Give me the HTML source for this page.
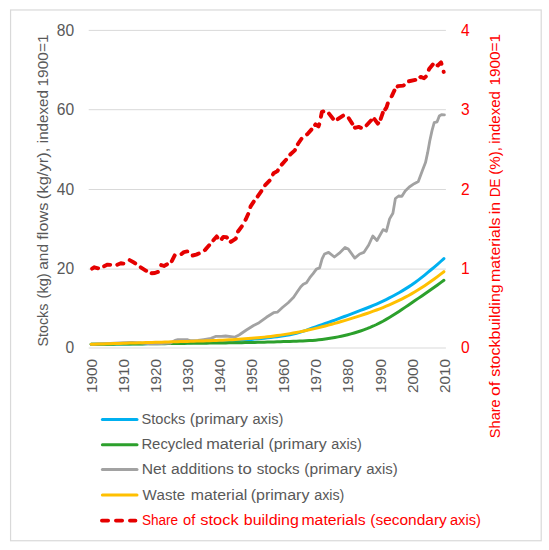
<!DOCTYPE html>
<html><head><meta charset="utf-8"><style>
html,body{margin:0;padding:0;background:#fff;}
body{width:549px;height:550px;overflow:hidden;position:relative;}
svg{position:absolute;left:0;top:0;font-family:'Liberation Sans', sans-serif;}
text{font-kerning:none;}
</style></head><body>
<svg width="549" height="550" viewBox="0 0 549 550">
<rect x="10.56" y="9.98" width="530.64" height="530.77" fill="none" stroke="#D9D9D9" stroke-width="1.2"/>
<line x1="88.7" y1="348.00" x2="445.9" y2="348.00" stroke="#D9D9D9" stroke-width="1"/>
<line x1="88.7" y1="269.10" x2="445.9" y2="269.10" stroke="#D9D9D9" stroke-width="1"/>
<line x1="88.7" y1="189.50" x2="445.9" y2="189.50" stroke="#D9D9D9" stroke-width="1"/>
<line x1="88.7" y1="109.70" x2="445.9" y2="109.70" stroke="#D9D9D9" stroke-width="1"/>
<line x1="88.7" y1="30.40" x2="445.9" y2="30.40" stroke="#D9D9D9" stroke-width="1"/>
<text x="74.2" y="353.20" text-anchor="end" font-size="15.6" fill="#595959">0</text>
<text x="74.2" y="274.30" text-anchor="end" font-size="15.6" fill="#595959">20</text>
<text x="74.2" y="194.70" text-anchor="end" font-size="15.6" fill="#595959">40</text>
<text x="74.2" y="114.90" text-anchor="end" font-size="15.6" fill="#595959">60</text>
<text x="74.2" y="35.60" text-anchor="end" font-size="15.6" fill="#595959">80</text>
<text x="461.0" y="353.20" text-anchor="start" font-size="15.6" fill="#FF0000">0</text>
<text x="461.0" y="274.30" text-anchor="start" font-size="15.6" fill="#FF0000">1</text>
<text x="461.0" y="194.70" text-anchor="start" font-size="15.6" fill="#FF0000">2</text>
<text x="461.0" y="114.90" text-anchor="start" font-size="15.6" fill="#FF0000">3</text>
<text x="461.0" y="35.60" text-anchor="start" font-size="15.6" fill="#FF0000">4</text>
<text transform="translate(97.00,359.0) rotate(-90)" text-anchor="end" font-size="15.3" fill="#595959">1900</text>
<text transform="translate(129.06,359.0) rotate(-90)" text-anchor="end" font-size="15.3" fill="#595959">1910</text>
<text transform="translate(161.12,359.0) rotate(-90)" text-anchor="end" font-size="15.3" fill="#595959">1920</text>
<text transform="translate(193.18,359.0) rotate(-90)" text-anchor="end" font-size="15.3" fill="#595959">1930</text>
<text transform="translate(225.24,359.0) rotate(-90)" text-anchor="end" font-size="15.3" fill="#595959">1940</text>
<text transform="translate(257.30,359.0) rotate(-90)" text-anchor="end" font-size="15.3" fill="#595959">1950</text>
<text transform="translate(289.36,359.0) rotate(-90)" text-anchor="end" font-size="15.3" fill="#595959">1960</text>
<text transform="translate(321.42,359.0) rotate(-90)" text-anchor="end" font-size="15.3" fill="#595959">1970</text>
<text transform="translate(353.48,359.0) rotate(-90)" text-anchor="end" font-size="15.3" fill="#595959">1980</text>
<text transform="translate(385.54,359.0) rotate(-90)" text-anchor="end" font-size="15.3" fill="#595959">1990</text>
<text transform="translate(417.60,359.0) rotate(-90)" text-anchor="end" font-size="15.3" fill="#595959">2000</text>
<text transform="translate(449.66,359.0) rotate(-90)" text-anchor="end" font-size="15.3" fill="#595959">2010</text>
<text transform="translate(48.10,346.55) rotate(-90)" font-size="15.3" fill="#595959" textLength="42.97" lengthAdjust="spacingAndGlyphs">Stocks</text>
<text transform="translate(48.10,298.40) rotate(-90)" font-size="15.3" fill="#595959" textLength="25.11" lengthAdjust="spacingAndGlyphs">(kg)</text>
<text transform="translate(48.10,269.76) rotate(-90)" font-size="15.3" fill="#595959" textLength="25.75" lengthAdjust="spacingAndGlyphs">and</text>
<text transform="translate(48.10,239.73) rotate(-90)" font-size="15.3" fill="#595959" textLength="37.12" lengthAdjust="spacingAndGlyphs">flows</text>
<text transform="translate(48.10,199.13) rotate(-90)" font-size="15.3" fill="#595959" textLength="51.51" lengthAdjust="spacingAndGlyphs">(kg/yr),</text>
<text transform="translate(48.10,143.21) rotate(-90)" font-size="15.3" fill="#595959" textLength="53.09" lengthAdjust="spacingAndGlyphs">indexed</text>
<text transform="translate(48.10,86.48) rotate(-90)" font-size="15.3" fill="#595959" textLength="52.03" lengthAdjust="spacingAndGlyphs">1900=1</text>
<text transform="translate(500.40,438.16) rotate(-90)" font-size="15.3" fill="#FF0000" textLength="38.81" lengthAdjust="spacingAndGlyphs">Share</text>
<text transform="translate(500.40,396.03) rotate(-90)" font-size="15.3" fill="#FF0000" textLength="14.50" lengthAdjust="spacingAndGlyphs">of</text>
<text transform="translate(500.40,376.85) rotate(-90)" font-size="15.3" fill="#FF0000" textLength="92.58" lengthAdjust="spacingAndGlyphs">stockbuilding</text>
<text transform="translate(500.40,281.95) rotate(-90)" font-size="15.3" fill="#FF0000" textLength="64.33" lengthAdjust="spacingAndGlyphs">materials</text>
<text transform="translate(500.40,214.16) rotate(-90)" font-size="15.3" fill="#FF0000" textLength="12.28" lengthAdjust="spacingAndGlyphs">in</text>
<text transform="translate(500.40,197.08) rotate(-90)" font-size="15.3" fill="#FF0000" textLength="18.35" lengthAdjust="spacingAndGlyphs">DE</text>
<text transform="translate(500.40,174.74) rotate(-90)" font-size="15.3" fill="#FF0000" textLength="27.80" lengthAdjust="spacingAndGlyphs">(%),</text>
<text transform="translate(500.40,143.81) rotate(-90)" font-size="15.3" fill="#FF0000" textLength="52.78" lengthAdjust="spacingAndGlyphs">indexed</text>
<text transform="translate(500.40,85.57) rotate(-90)" font-size="15.3" fill="#FF0000" textLength="51.51" lengthAdjust="spacingAndGlyphs">1900=1</text>
<polyline points="91.10,344.30 94.31,344.28 97.51,344.26 100.72,344.24 103.93,344.21 107.14,344.18 110.34,344.15 113.55,344.11 116.76,344.07 119.97,344.04 123.17,344.00 126.38,343.95 129.59,343.91 132.79,343.86 136.00,343.82 139.21,343.77 142.42,343.72 145.62,343.67 148.83,343.62 152.04,343.57 155.25,343.51 158.45,343.45 161.66,343.39 164.87,343.33 168.07,343.26 171.28,343.19 174.49,343.12 177.70,343.04 180.90,342.96 184.11,342.88 187.32,342.79 190.53,342.70 193.73,342.60 196.94,342.50 200.15,342.40 203.35,342.28 206.56,342.16 209.77,342.02 212.98,341.87 216.18,341.72 219.39,341.55 222.60,341.37 225.81,341.19 229.01,341.00 232.22,340.80 235.43,340.60 238.63,340.39 241.84,340.17 245.05,339.94 248.26,339.68 251.46,339.41 254.67,339.12 257.88,338.81 261.09,338.49 264.29,338.17 267.50,337.84 270.71,337.49 273.91,337.13 277.12,336.74 280.33,336.32 283.54,335.86 286.74,335.36 289.95,334.81 293.16,334.15 296.37,333.34 299.57,332.42 302.78,331.39 305.99,330.30 309.19,329.16 312.40,327.99 315.61,326.83 318.82,325.70 322.02,324.61 325.23,323.50 328.44,322.37 331.65,321.22 334.85,320.06 338.06,318.88 341.27,317.69 344.47,316.49 347.68,315.28 350.89,314.06 354.10,312.86 357.30,311.66 360.51,310.46 363.72,309.25 366.93,308.01 370.13,306.74 373.34,305.42 376.55,304.05 379.75,302.61 382.96,301.11 386.17,299.55 389.38,297.94 392.58,296.26 395.79,294.52 399.00,292.72 402.21,290.85 405.41,288.90 408.62,286.89 411.83,284.79 415.03,282.54 418.24,280.15 421.45,277.66 424.66,275.08 427.86,272.44 431.07,269.75 434.28,267.05 437.49,264.33 440.69,261.50 443.90,258.60" fill="none" stroke="#00B0F0" stroke-width="3.0" stroke-linejoin="round" stroke-linecap="round"/>
<polyline points="91.10,344.30 94.31,344.28 97.51,344.25 100.72,344.23 103.93,344.21 107.14,344.18 110.34,344.16 113.55,344.13 116.76,344.11 119.97,344.08 123.17,344.06 126.38,344.03 129.59,344.00 132.79,343.97 136.00,343.94 139.21,343.91 142.42,343.88 145.62,343.85 148.83,343.81 152.04,343.78 155.25,343.74 158.45,343.70 161.66,343.67 164.87,343.63 168.07,343.59 171.28,343.55 174.49,343.51 177.70,343.47 180.90,343.43 184.11,343.39 187.32,343.35 190.53,343.31 193.73,343.27 196.94,343.23 200.15,343.20 203.35,343.16 206.56,343.13 209.77,343.10 212.98,343.06 216.18,343.03 219.39,342.99 222.60,342.95 225.81,342.91 229.01,342.87 232.22,342.83 235.43,342.78 238.63,342.72 241.84,342.67 245.05,342.60 248.26,342.54 251.46,342.47 254.67,342.39 257.88,342.31 261.09,342.23 264.29,342.15 267.50,342.06 270.71,341.97 273.91,341.88 277.12,341.79 280.33,341.69 283.54,341.60 286.74,341.50 289.95,341.40 293.16,341.30 296.37,341.20 299.57,341.08 302.78,340.95 305.99,340.79 309.19,340.61 312.40,340.39 315.61,340.13 318.82,339.82 322.02,339.47 325.23,339.06 328.44,338.60 331.65,338.09 334.85,337.52 338.06,336.90 341.27,336.22 344.47,335.49 347.68,334.70 350.89,333.86 354.10,332.96 357.30,332.00 360.51,330.96 363.72,329.85 366.93,328.66 370.13,327.37 373.34,325.99 376.55,324.51 379.75,322.93 382.96,321.23 386.17,319.42 389.38,317.53 392.58,315.55 395.79,313.51 399.00,311.42 402.21,309.29 405.41,307.12 408.62,304.94 411.83,302.75 415.03,300.57 418.24,298.37 421.45,296.17 424.66,293.96 427.86,291.74 431.07,289.49 434.28,287.23 437.49,284.94 440.69,282.62 443.90,280.30" fill="none" stroke="#2CA02C" stroke-width="3.0" stroke-linejoin="round" stroke-linecap="round"/>
<polyline points="91.1,344.3 100,343.9 110,343.3 120,343.0 132,342.4 140,342.8 150,343.8 157,343.8 170,343.2 175,340.4 178,339.7 187.7,339.7 190.6,340.7 197.9,340.5 203.7,339.6 211,338.4 216.1,336.3 221.2,336.3 225.6,336.0 232.9,336.9 234.5,337.2 239.1,335.0 246.4,330 253.6,325.5 259.1,322.7 266.4,317.3 273.6,312.7 277.3,312.2 282.7,307.3 288.2,302.7 293.6,297.3 297.3,291.8 300.8,286.7 303.3,284.3 306.5,282.7 309.8,277.7 313.1,273.6 316.4,269.1 319.6,267.9 322.1,258.9 324.5,254 328.6,252.4 334.4,257 339.3,253.2 345,247.5 348.3,249.1 354.8,258.1 359.7,254 363.8,252.4 368.7,245 372.8,236 377,240.5 383.1,229.6 386.4,231.2 389.6,218.9 392.9,213.2 395.4,198.5 398.6,196 401.9,196.3 405.2,191.1 409.3,187 414.2,183.7 418.3,181.5 422.6,169.9 425.5,162.6 427.7,152.4 429.8,140.8 432,130.6 434.2,122.6 437.1,121.8 439.3,116 441.5,114.6 444.4,114.8" fill="none" stroke="#A2A2A2" stroke-width="2.8" stroke-linejoin="round" stroke-linecap="round"/>
<polyline points="91.10,344.30 94.31,344.20 97.51,344.10 100.72,343.99 103.93,343.89 107.14,343.79 110.34,343.69 113.55,343.59 116.76,343.49 119.97,343.39 123.17,343.29 126.38,343.19 129.59,343.09 132.79,342.99 136.00,342.90 139.21,342.80 142.42,342.71 145.62,342.61 148.83,342.52 152.04,342.42 155.25,342.33 158.45,342.24 161.66,342.15 164.87,342.06 168.07,341.96 171.28,341.87 174.49,341.78 177.70,341.69 180.90,341.59 184.11,341.50 187.32,341.40 190.53,341.30 193.73,341.20 196.94,341.10 200.15,341.00 203.35,340.89 206.56,340.78 209.77,340.67 212.98,340.55 216.18,340.42 219.39,340.29 222.60,340.15 225.81,340.00 229.01,339.84 232.22,339.67 235.43,339.48 238.63,339.29 241.84,339.08 245.05,338.85 248.26,338.61 251.46,338.35 254.67,338.08 257.88,337.78 261.09,337.47 264.29,337.13 267.50,336.77 270.71,336.40 273.91,335.99 277.12,335.57 280.33,335.12 283.54,334.64 286.74,334.14 289.95,333.61 293.16,333.05 296.37,332.46 299.57,331.85 302.78,331.21 305.99,330.54 309.19,329.84 312.40,329.12 315.61,328.37 318.82,327.59 322.02,326.79 325.23,325.97 328.44,325.12 331.65,324.25 334.85,323.36 338.06,322.44 341.27,321.52 344.47,320.57 347.68,319.61 350.89,318.63 354.10,317.63 357.30,316.62 360.51,315.59 363.72,314.54 366.93,313.46 370.13,312.34 373.34,311.20 376.55,310.02 379.75,308.80 382.96,307.53 386.17,306.22 389.38,304.86 392.58,303.45 395.79,301.98 399.00,300.45 402.21,298.86 405.41,297.20 408.62,295.47 411.83,293.66 415.03,291.78 418.24,289.82 421.45,287.80 424.66,285.69 427.86,283.52 431.07,281.28 434.28,278.97 437.49,276.59 440.69,274.16 443.90,271.70" fill="none" stroke="#FFC000" stroke-width="3.0" stroke-linejoin="round" stroke-linecap="round"/>
<polyline points="91.2,269.2 94.4,267.3 98.5,268.4 103.9,266.4 107.6,264.6 111.2,265 117.1,264.8 120.8,263.2 124.4,263.7 129.4,260 134.4,262.8 140.7,267.3 146.2,270.8 151.7,273.2 154.9,273 158.5,271.7 161.2,265 164,266 166.7,264.6 171.7,261.4 174.9,255 181.2,254.2 183.9,252.1 187.6,251.4 192.6,255.5 196.2,254.6 199.4,253.2 204.9,250.1 209.4,245 214,239.6 216.7,236.4 218.1,238.7 221.3,239.6 223.3,236.9 226.5,237.2 230.9,241.9 235.8,238.6 238,231.5 242.4,225.5 245.7,219.5 248.4,213.5 250.6,206.4 253.8,201.5 257.7,196.4 261.6,190.8 265.4,184.8 269.7,180.4 273.6,173.3 277.4,171.1 281.7,164.6 286.1,159.7 290.5,154.2 294.8,150.4 297.9,144 301.8,138.3 307.3,134.2 311.4,129.6 315.5,124.4 318.5,126.4 319.6,123.2 321,116.4 321.9,111.8 323.7,111.4 328.7,113.2 333.3,119.1 337.5,119.3 343.2,115.5 348.2,117.3 352.3,123.7 355,127.8 358.7,126.9 361.9,128.2 366.4,125.5 371.4,120 374.2,118.7 377.8,123.7 380.5,119.6 382.8,112.8 386.5,107.4 388.6,100.9 391.9,95.9 394.7,89.9 397.9,86.1 403.4,85.6 408.7,81.3 415.5,79.9 420.7,76.9 424.1,78.2 426.4,76 429.1,69.1 433.2,64.1 437.8,65.5 441,62.3 441.9,65 443.7,71.9" fill="none" stroke="#E50000" stroke-width="3.9" stroke-linejoin="round" stroke-linecap="round" stroke-dasharray="6.50 6.40 6.50 7.10 6.50 7.50 6.50 6.70 6.50 5.90 6.50 7.70 6.50 5.80 6.50 7.20 6.50 6.80 6.50 6.90 6.50 6.50 6.50 5.40 6.50 5.50 6.50 7.10 6.50 7.40 6.50 7.20 6.50 6.40 6.50 7.00 6.50 7.00 6.50 7.00 6.50 6.70 6.50 6.60 6.50 7.10 6.50 5.90 6.50 7.80 6.50 6.20 6.50 4.90 6.50 6.50 6.50 4.70 6.50 6.50 6.50 4.20 6.50 4.80 6.50 4.20 6.50 8.20 6.50 5.10 6.50 6.60 6.50 5.70 6.50 7.50 6.50 5.10 6.50 8.15 0.50 200.00" stroke-dashoffset="-1.05"/>
<line x1="102.4" y1="419.4" x2="137" y2="419.4" stroke="#00B0F0" stroke-width="3.0" stroke-linecap="round"/>
<text x="141.54" y="423.90" font-size="15.2" fill="#595959" textLength="43.79" lengthAdjust="spacingAndGlyphs">Stocks</text>
<text x="189.82" y="423.90" font-size="15.2" fill="#595959" textLength="58.22" lengthAdjust="spacingAndGlyphs">(primary</text>
<text x="252.48" y="423.90" font-size="15.2" fill="#595959" textLength="30.83" lengthAdjust="spacingAndGlyphs">axis)</text>
<line x1="102.4" y1="444.8" x2="137" y2="444.8" stroke="#2CA02C" stroke-width="3.0" stroke-linecap="round"/>
<text x="141.38" y="449.30" font-size="15.2" fill="#595959" textLength="61.18" lengthAdjust="spacingAndGlyphs">Recycled</text>
<text x="206.22" y="449.30" font-size="15.2" fill="#595959" textLength="57.97" lengthAdjust="spacingAndGlyphs">material</text>
<text x="268.41" y="449.30" font-size="15.2" fill="#595959" textLength="58.32" lengthAdjust="spacingAndGlyphs">(primary</text>
<text x="331.29" y="449.30" font-size="15.2" fill="#595959" textLength="30.40" lengthAdjust="spacingAndGlyphs">axis)</text>
<line x1="102.4" y1="469.6" x2="137" y2="469.6" stroke="#A2A2A2" stroke-width="3.0" stroke-linecap="round"/>
<text x="141.71" y="474.10" font-size="15.2" fill="#595959" textLength="24.40" lengthAdjust="spacingAndGlyphs">Net</text>
<text x="171.03" y="474.10" font-size="15.2" fill="#595959" textLength="62.73" lengthAdjust="spacingAndGlyphs">additions</text>
<text x="237.75" y="474.10" font-size="15.2" fill="#595959" textLength="13.96" lengthAdjust="spacingAndGlyphs">to</text>
<text x="256.68" y="474.10" font-size="15.2" fill="#595959" textLength="42.97" lengthAdjust="spacingAndGlyphs">stocks</text>
<text x="304.33" y="474.10" font-size="15.2" fill="#595959" textLength="57.10" lengthAdjust="spacingAndGlyphs">(primary</text>
<text x="366.26" y="474.10" font-size="15.2" fill="#595959" textLength="31.56" lengthAdjust="spacingAndGlyphs">axis)</text>
<line x1="102.4" y1="495.0" x2="137" y2="495.0" stroke="#FFC000" stroke-width="3.0" stroke-linecap="round"/>
<text x="142.43" y="499.50" font-size="15.2" fill="#595959" textLength="42.63" lengthAdjust="spacingAndGlyphs">Waste</text>
<text x="190.85" y="499.50" font-size="15.2" fill="#595959" textLength="56.41" lengthAdjust="spacingAndGlyphs">material</text>
<text x="250.71" y="499.50" font-size="15.2" fill="#595959" textLength="58.72" lengthAdjust="spacingAndGlyphs">(primary</text>
<text x="314.19" y="499.50" font-size="15.2" fill="#595959" textLength="30.19" lengthAdjust="spacingAndGlyphs">axis)</text>
<line x1="101.9" y1="520.5" x2="135.5" y2="520.5" stroke="#E50000" stroke-width="3.75" stroke-linecap="round" stroke-dasharray="6.25 7.75"/>
<text x="141.88" y="525.00" font-size="15.2" fill="#FF0000" textLength="36.32" lengthAdjust="spacingAndGlyphs">Share</text>
<text x="183.09" y="525.00" font-size="15.2" fill="#FF0000" textLength="12.19" lengthAdjust="spacingAndGlyphs">of</text>
<text x="200.34" y="525.00" font-size="15.2" fill="#FF0000" textLength="38.33" lengthAdjust="spacingAndGlyphs">stock</text>
<text x="243.77" y="525.00" font-size="15.2" fill="#FF0000" textLength="55.06" lengthAdjust="spacingAndGlyphs">building</text>
<text x="301.45" y="525.00" font-size="15.2" fill="#FF0000" textLength="64.12" lengthAdjust="spacingAndGlyphs">materials</text>
<text x="370.24" y="525.00" font-size="15.2" fill="#FF0000" textLength="76.59" lengthAdjust="spacingAndGlyphs">(secondary</text>
<text x="449.98" y="525.00" font-size="15.2" fill="#FF0000" textLength="30.93" lengthAdjust="spacingAndGlyphs">axis)</text>
</svg>
</body></html>
